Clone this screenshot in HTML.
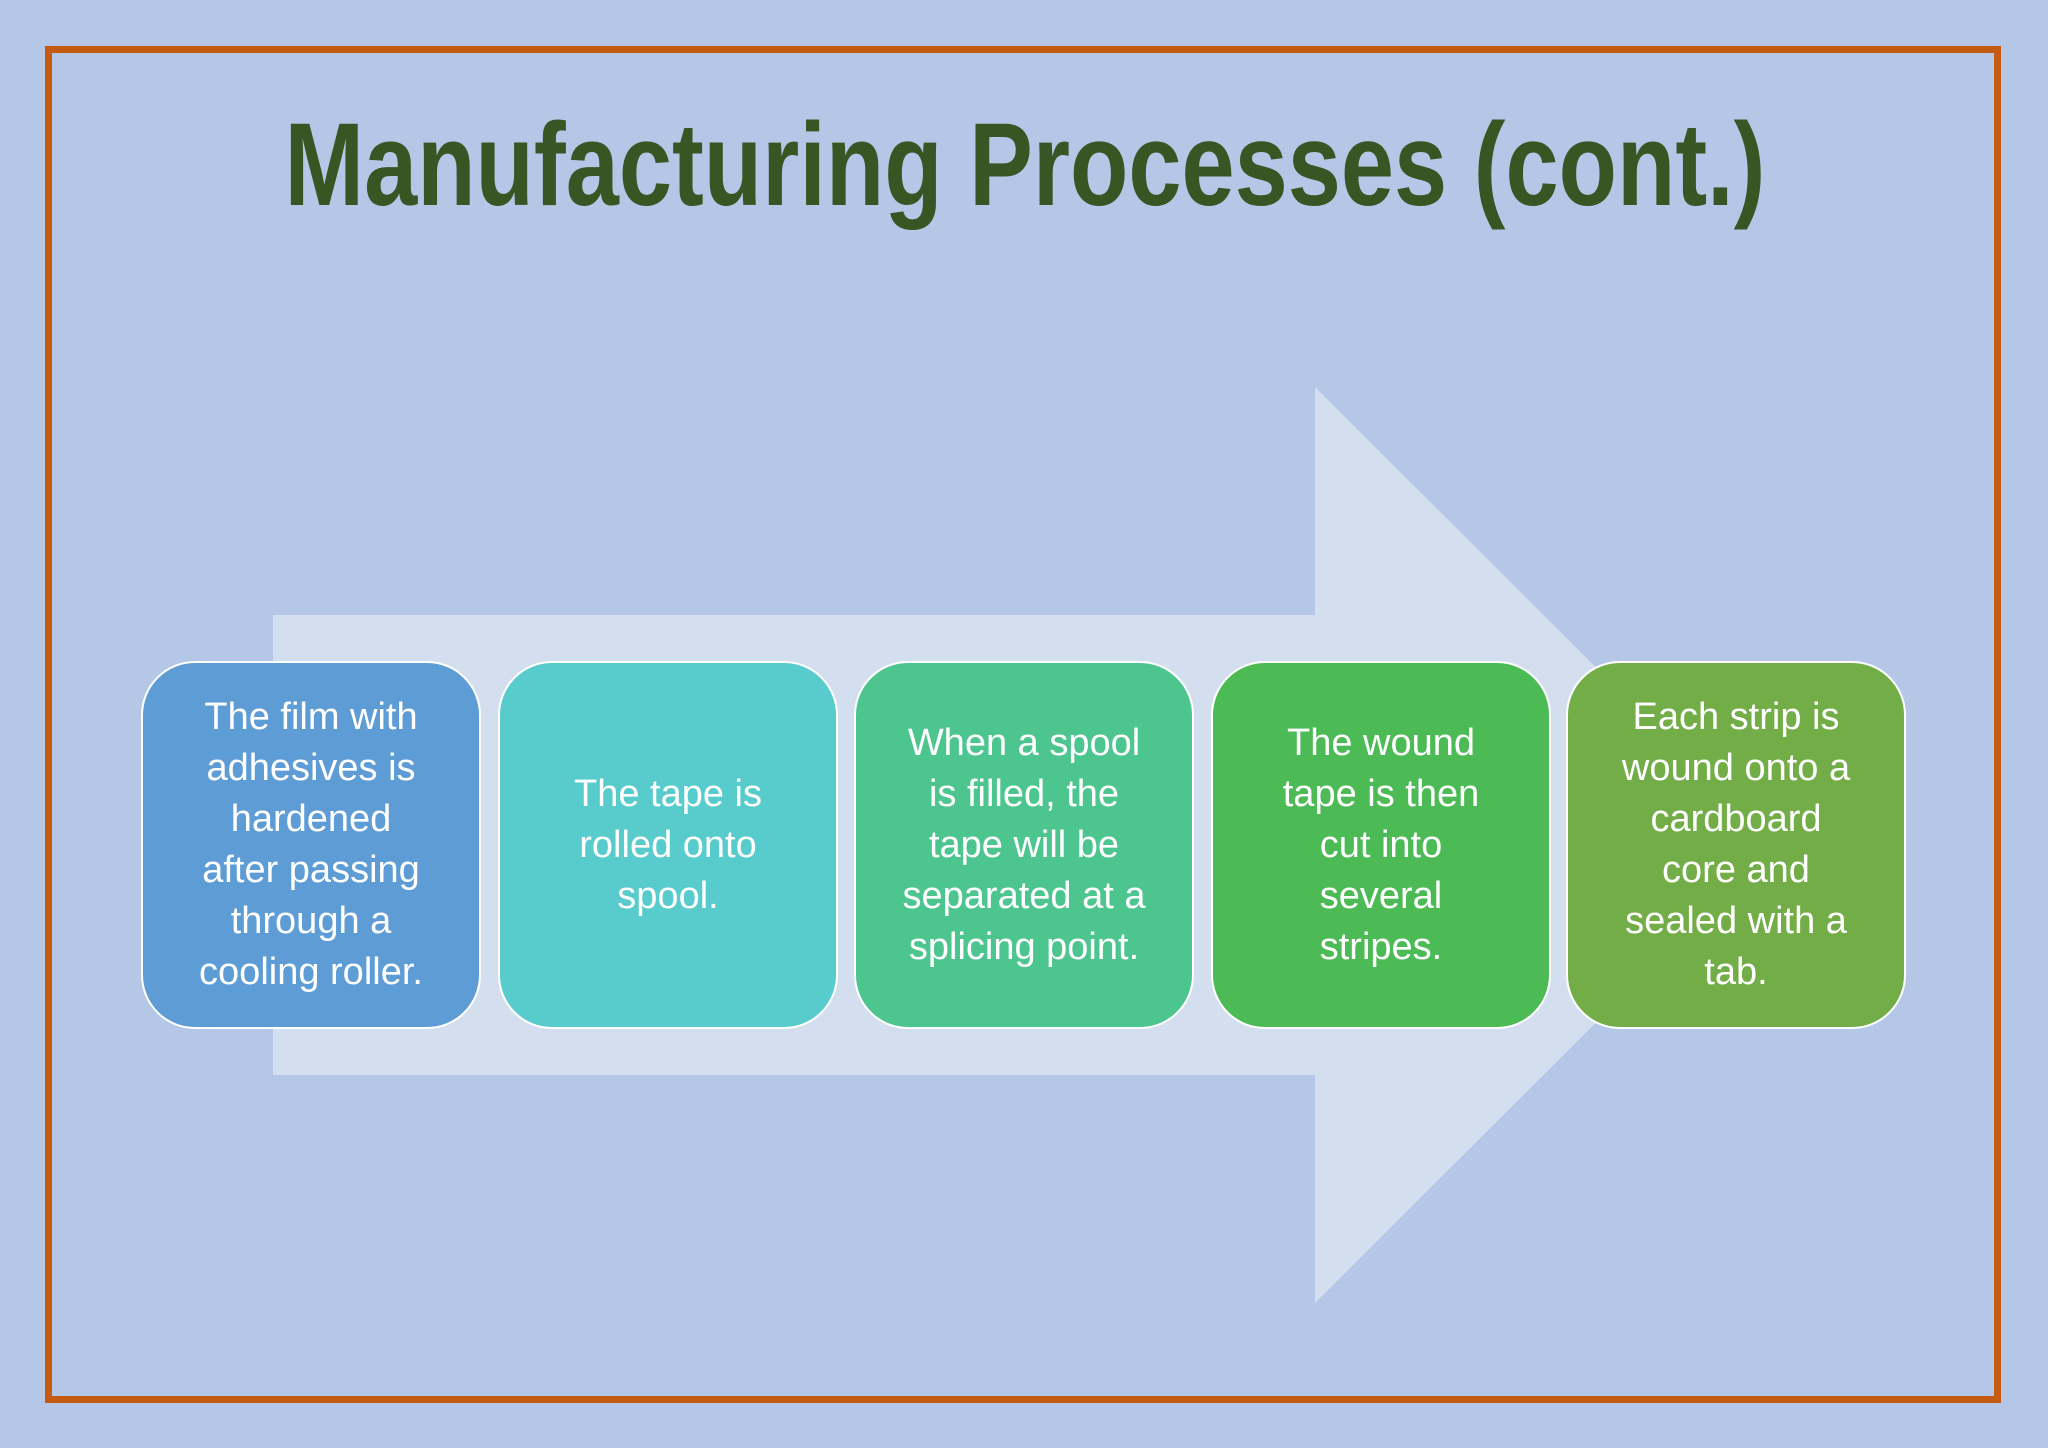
<!DOCTYPE html>
<html><head><meta charset="utf-8"><style>
html,body{margin:0;padding:0;}
body{width:2048px;height:1448px;background:#b4c7e7;position:relative;overflow:hidden;font-family:"Liberation Sans",sans-serif;}
.frame{position:absolute;left:45px;top:46px;width:1956px;height:1357px;border:7px solid #c55a11;box-sizing:border-box;}
.box{position:absolute;top:661px;width:340px;height:368px;border:2px solid #fff;border-radius:54px;box-sizing:border-box;display:flex;align-items:center;justify-content:center;text-align:center;color:#fff;font-size:38px;line-height:51px;}
</style></head><body>
<div class="frame"></div>
<svg width="2048" height="1448" style="position:absolute;left:0;top:0">
<text x="1025" y="205" text-anchor="middle" font-family="Liberation Sans" font-weight="bold" font-size="118" fill="#375623" textLength="1481" lengthAdjust="spacingAndGlyphs">Manufacturing Processes (cont.)</text>
<polygon points="273,615 1315,615 1315,387 1774,845 1315,1303 1315,1075 273,1075" fill="#d3dfee"/>
</svg>
<div class="box" style="left:141px;background:#5e9cd6">The film with<br>adhesives is<br>hardened<br>after passing<br>through a<br>cooling roller.</div>
<div class="box" style="left:498px;background:#58cbcc">The tape is<br>rolled onto<br>spool.</div>
<div class="box" style="left:854px;background:#4dc58f">When a spool<br>is filled, the<br>tape will be<br>separated at a<br>splicing point.</div>
<div class="box" style="left:1211px;background:#4cbb55">The wound<br>tape is then<br>cut into<br>several<br>stripes.</div>
<div class="box" style="left:1566px;background:#72ad47">Each strip is<br>wound onto a<br>cardboard<br>core and<br>sealed with a<br>tab.</div>
</body></html>
